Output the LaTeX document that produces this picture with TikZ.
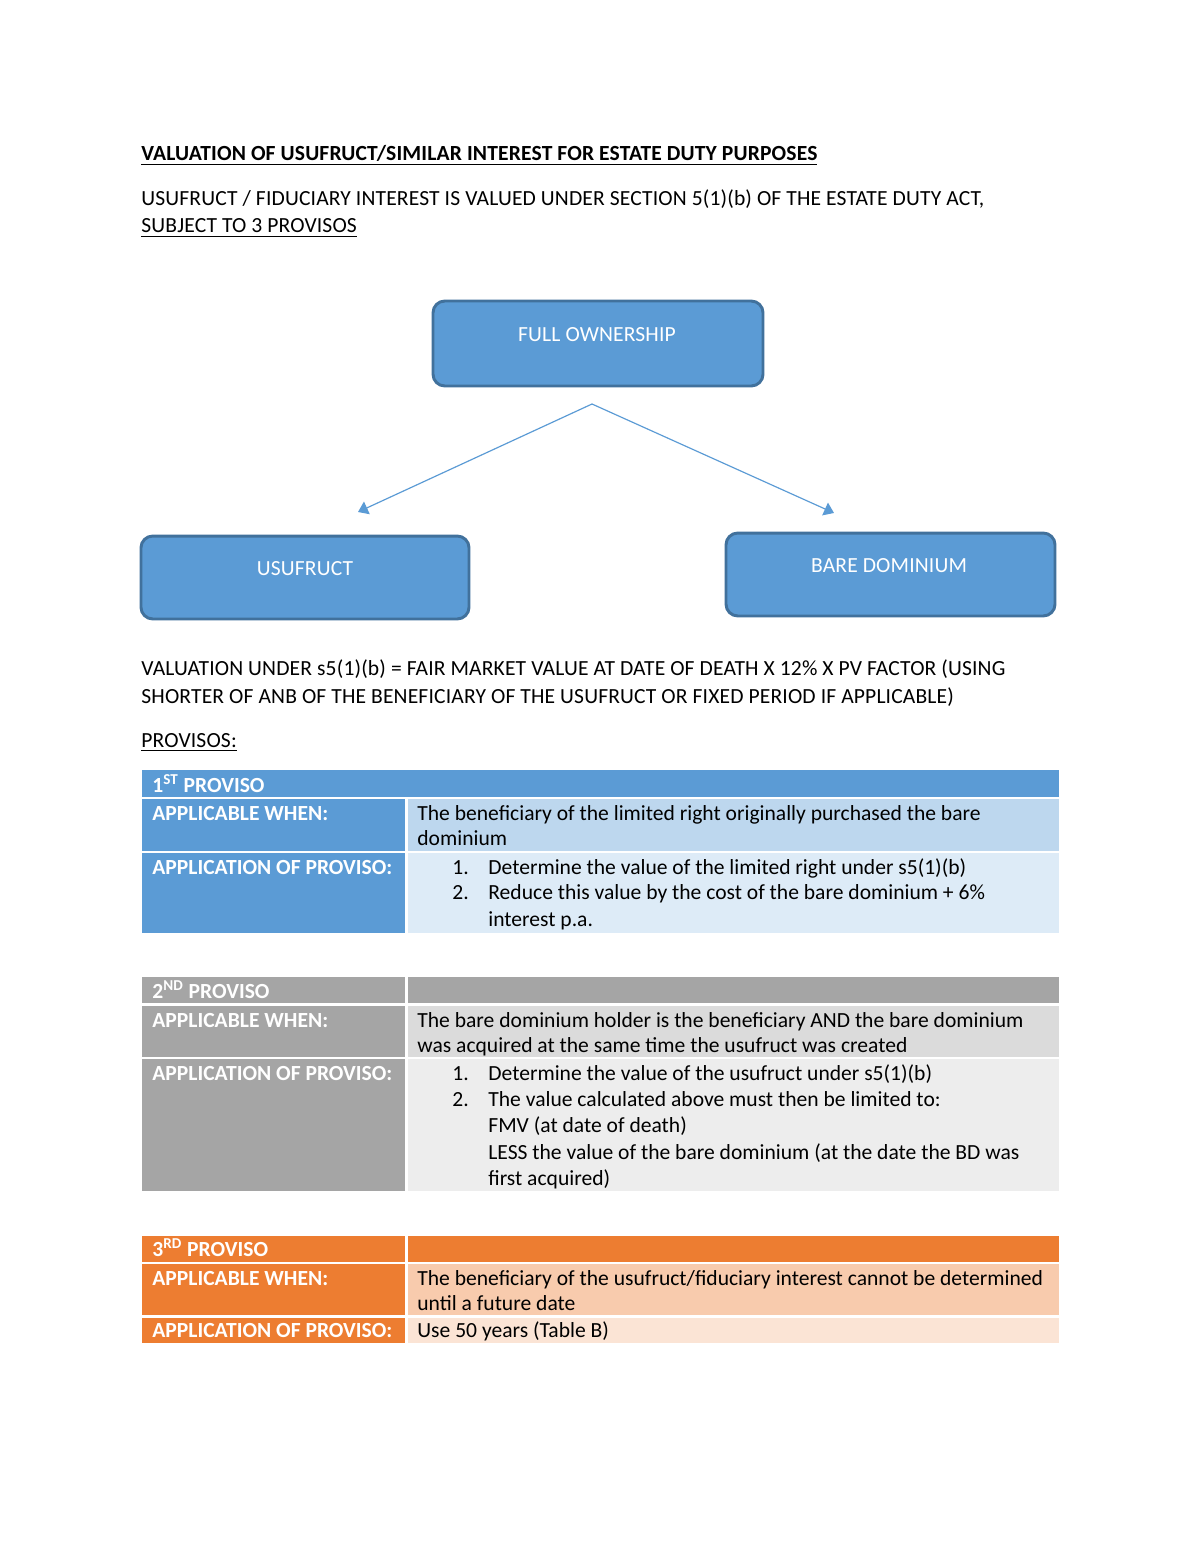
\documentclass[tikz,border=0pt]{standalone}
\usepackage{fontspec}
\setmainfont{Carlito}[LetterSpace=0.7]
\newfontfamily\tblfont{Carlito}
\usetikzlibrary{arrows.meta}
\definecolor{boxblue}{HTML}{5B9BD5}
\definecolor{boxedge}{HTML}{41719C}
\definecolor{blueA}{HTML}{BDD7EE}
\definecolor{blueB}{HTML}{DDEBF7}
\definecolor{grayH}{HTML}{A5A5A5}
\definecolor{grayA}{HTML}{DBDBDB}
\definecolor{grayB}{HTML}{EDEDED}
\definecolor{orH}{HTML}{ED7D31}
\definecolor{orA}{HTML}{F8CBAD}
\definecolor{orB}{HTML}{FBE4D5}
\tikzset{
  txt/.style={anchor=base west, inner sep=0pt, font=\fontsize{11}{13}\selectfont, text=black},
  cell/.style={txt, font=\tblfont\fontsize{11}{13}\selectfont},
  hdr/.style={txt, font=\tblfont\fontsize{11}{13}\selectfont\bfseries, text=white},
  flowbox/.style={draw=boxedge, fill=boxblue, line width=1.5pt, rounded corners=6pt},
  boxtxt/.style={inner sep=0pt, font=\fontsize{11}{13}\selectfont, text=white},
  arrowline/.style={draw=boxblue, line width=0.6pt, -{Triangle[width=7pt,length=5pt]}},
}
\begin{document}
\begin{tikzpicture}[x=0.51pt, y=-0.51pt]
\useasboundingbox (0,0) rectangle (1200,1553);
\fill[white] (0,0) rectangle (1200,1553);

% heading texts
\node[txt, font=\fontsize{11}{13}\selectfont\bfseries] (title) at (141,161) {\underline{VALUATION OF USUFRUCT/SIMILAR INTEREST FOR ESTATE DUTY PURPOSES}};
\node[txt] (intro1) at (141,206) {USUFRUCT / FIDUCIARY INTEREST IS VALUED UNDER SECTION 5(1)(b) OF THE ESTATE DUTY ACT,};
\node[txt] (intro2) at (141,233) {\underline{SUBJECT TO 3 PROVISOS}};

% flow boxes
\node[flowbox, minimum width=168.3pt, minimum height=43.35pt] (full) at (598,343.5) {};
\node[boxtxt] (fulltxt) at (597,335) {FULL OWNERSHIP};
\node[flowbox, minimum width=167.3pt, minimum height=42.3pt] (usu) at (305,577.5) {};
\node[boxtxt] (usutxt) at (305,569) {USUFRUCT};
\node[flowbox, minimum width=167.8pt, minimum height=42.3pt] (bare) at (890.5,574.5) {};
\node[boxtxt] (baretxt) at (889,566) {BARE DOMINIUM};

\coordinate (apex) at (592,404);
\coordinate (usuend) at (358,512);
\coordinate (bareend) at (834,513);
\draw[arrowline] (apex) -- (usuend);
\draw[arrowline] (apex) -- (bareend);

% valuation text
\node[txt] (val1) at (141,675) {VALUATION UNDER s5(1)(b) = FAIR MARKET VALUE AT DATE OF DEATH X 12\% X PV FACTOR (USING};
\node[txt] (val2) at (141,703) {SHORTER OF ANB OF THE BENEFICIARY OF THE USUFRUCT OR FIXED PERIOD IF APPLICABLE)};
\node[txt] (prov) at (141,747) {\underline{PROVISOS:}};

% ---------- table 1 ----------
\fill[boxblue] (142,770) rectangle (1059,797);
\fill[boxblue] (142,799) rectangle (405,851);
\fill[blueA] (408,799) rectangle (1059,851);
\fill[boxblue] (142,853) rectangle (405,933);
\fill[blueB] (408,853) rectangle (1059,933);
\node[hdr] (t1h) at (152,792) {1\textsuperscript{ST} PROVISO};
\node[hdr] (t1a) at (152,820) {APPLICABLE WHEN:};
\node[cell] (t1a1) at (417,820) {The beneficiary of the limited right originally purchased the bare};
\node[cell] (t1a2) at (417,845) {dominium};
\node[hdr] (t1b) at (152,874) {APPLICATION OF PROVISO:};
\node[cell] (t1n1) at (452,874) {1.};
\node[cell] (t1b1) at (488,874) {Determine the value of the limited right under s5(1)(b)};
\node[cell] (t1n2) at (452,899) {2.};
\node[cell] (t1b2) at (488,899) {Reduce this value by the cost of the bare dominium + 6\%};
\node[cell] (t1b3) at (488,926) {interest p.a.};

% ---------- table 2 ----------
\fill[grayH] (142,977) rectangle (405,1003);
\fill[grayH] (408,977) rectangle (1059,1003);
\fill[grayH] (142,1006) rectangle (405,1057);
\fill[grayA] (408,1006) rectangle (1059,1057);
\fill[grayH] (142,1059) rectangle (405,1191);
\fill[grayB] (408,1059) rectangle (1059,1191);
\node[hdr] (t2h) at (152,998) {2\textsuperscript{ND} PROVISO};
\node[hdr] (t2a) at (152,1027) {APPLICABLE WHEN:};
\node[cell] (t2a1) at (417,1027) {The bare dominium holder is the beneficiary AND the bare dominium};
\node[cell] (t2a2) at (417,1052) {was acquired at the same time the usufruct was created};
\node[hdr] (t2b) at (152,1080) {APPLICATION OF PROVISO:};
\node[cell] (t2n1) at (452,1080) {1.};
\node[cell] (t2b1) at (488,1080) {Determine the value of the usufruct under s5(1)(b)};
\node[cell] (t2n2) at (452,1106) {2.};
\node[cell] (t2b2) at (488,1106) {The value calculated above must then be limited to:};
\node[cell] (t2b3) at (488,1132) {FMV (at date of death)};
\node[cell] (t2b4) at (488,1159) {LESS the value of the bare dominium (at the date the BD was};
\node[cell] (t2b5) at (488,1185) {first acquired)};

% ---------- table 3 ----------
\fill[orH] (142,1236) rectangle (405,1262);
\fill[orH] (408,1236) rectangle (1059,1262);
\fill[orH] (142,1264) rectangle (405,1315);
\fill[orA] (408,1264) rectangle (1059,1315);
\fill[orH] (142,1318) rectangle (405,1343);
\fill[orB] (408,1318) rectangle (1059,1343);
\node[hdr] (t3h) at (152,1256) {3\textsuperscript{RD} PROVISO};
\node[hdr] (t3a) at (152,1285) {APPLICABLE WHEN:};
\node[cell] (t3a1) at (417,1285) {The beneficiary of the usufruct/fiduciary interest cannot be determined};
\node[cell] (t3a2) at (417,1310) {until a future date};
\node[hdr] (t3b) at (152,1337) {APPLICATION OF PROVISO:};
\node[cell] (t3b1) at (417,1337) {Use 50 years (Table B)};
\end{tikzpicture}
\end{document}
